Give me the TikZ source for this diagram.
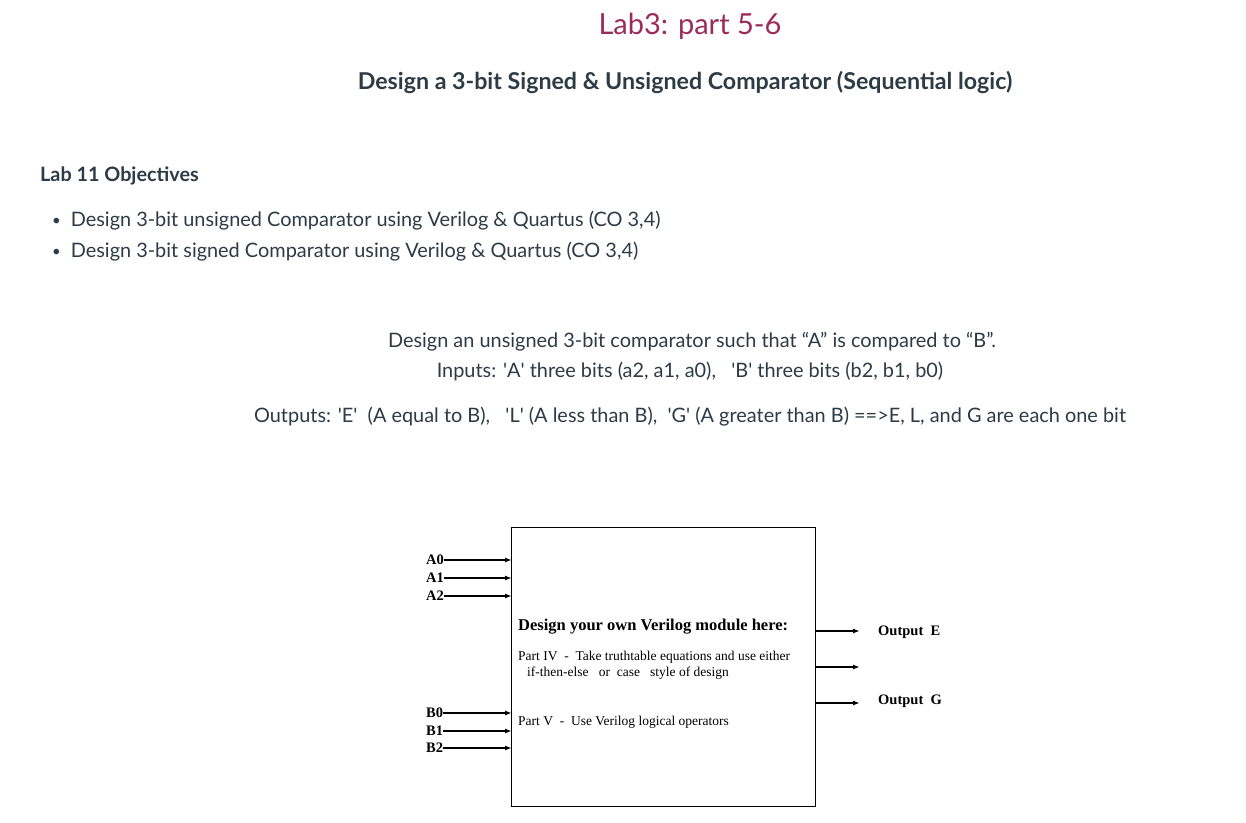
\documentclass[tikz,border=0pt]{standalone}
\usepackage{fontspec}
\usetikzlibrary{arrows.meta}
\setmainfont{Lato}
\newfontfamily\ser{Liberation Serif}
\definecolor{ttl}{HTML}{9B2C5A}
\definecolor{txt}{HTML}{2D3B45}
\newcommand{\sq}{\textquotesingle}
\begin{document}
\begin{tikzpicture}[x=1pt,y=-1pt,
  body/.style={anchor=base west,text=txt,font=\fontsize{19.9}{22}\selectfont,inner sep=0},
  pin/.style={font=\ser\bfseries\fontsize{14.5}{14.5}\selectfont,inner sep=0,anchor=west},
  arr/.style={-{Latex[length=7pt,width=5pt]},line width=1.4pt},
  box/.style={draw,line width=1pt}]
\useasboundingbox[fill=white] (0,0) rectangle (1246,822);
\node[text=ttl,font=\fontsize{29}{32}\selectfont,inner sep=0] (t) at (690,26) {Lab3: part 5-6};
\node[text=txt,font=\bfseries\fontsize{23.2}{26}\selectfont,inner sep=0] (s) at (685,82) {Design a 3-bit Signed \& Unsigned Comparator (Sequential logic)};
\node[body,font=\bfseries\fontsize{19.8}{22}\selectfont] (o) at (40,181) {Lab 11 Objectives};
\node[body] (b1) at (52,226) {\raisebox{1pt}{\scalebox{0.75}{•}}\hspace{10pt}Design 3-bit unsigned Comparator using Verilog \& Quartus (CO 3,4)};
\node[body] (b2) at (52,257) {\raisebox{1pt}{\scalebox{0.75}{•}}\hspace{10pt}Design 3-bit signed Comparator using Verilog \& Quartus (CO 3,4)};
\node[body,anchor=base] (l1) at (692,347) {Design an unsigned 3-bit comparator such that “A” is compared to “B”.};
\node[body,anchor=base] (l2) at (690,377) {Inputs: \sq A\sq\ three bits (a2, a1, a0),\ \ \ \sq B\sq\ three bits (b2, b1, b0)};
\node[body,anchor=base] (l3) at (690,422) {Outputs: \sq E\sq\ \ (A equal to B),\ \ \ \sq L\sq\ (A less than B),\ \ \sq G\sq\ (A greater than B) ==>E, L, and G are each one bit};
\node[box,minimum width=304,minimum height=279,inner sep=0] (m) at (663,666.5) {};
\foreach \n/\y in {A0/560,A1/578,A2/596,B0/713,B1/731,B2/748}{
  \node[pin] (\n) at (426,\y) {\n};
  \coordinate (\n e) at (512,\y);
  \draw[arr] (\n.east) -- (\n e);
}
\foreach \n/\y in {1/631,2/667,3/703}{
  \coordinate (o\n s) at (815,\y);
  \coordinate (o\n e) at (860,\y);
  \draw[arr] (o\n s) -- (o\n e);
}
\node[pin] (oe) at (878,632) {Output\ \ E};
\node[pin] (og) at (878,701) {Output\ \ G};
\node[pin,font=\ser\bfseries\fontsize{16.5}{16}\selectfont] (d1) at (518,627) {Design your own Verilog module here:};
\node[inner sep=0,anchor=north west,align=left,font=\ser\fontsize{13.5}{16}\selectfont] (d2) at (518,651) {Part IV\ \ -\ \ Take truthtable equations and use either\\\hspace{9pt}if-then-else\ \ \ or\ \ case\ \ \ style of design};
\node[inner sep=0,anchor=west,font=\ser\fontsize{13.5}{16}\selectfont] (d3) at (518,722) {Part V\ \ -\ \ Use Verilog logical operators};
\end{tikzpicture}
\end{document}
